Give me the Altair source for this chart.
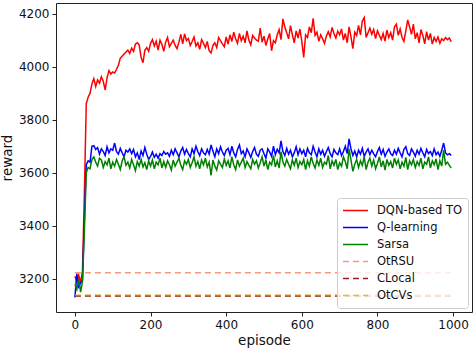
import altair as alt
import pandas as pd

# ---- data -------------------------------------------------------------
episodes = list(range(0, 1000, 5))

dqn = [
    3210, 3190, 3215, 3185, 3230, 3520, 3860, 3885, 3900, 3935,
    3955, 3925, 3950, 3938, 3962, 3945, 3912, 3958, 3985, 3972,
    3980, 3976, 3990, 4005, 4032, 4040, 4048, 4055, 4062, 4050,
    4070, 4058, 4085, 4090, 4082, 4035, 4015, 4062, 4072, 4058,
    4088, 4102, 4078, 4096, 4062, 4100, 4084, 4058, 4092, 4110,
    4075, 4088, 4100, 4080, 4068, 4092, 4122, 4086, 4124, 4098,
    4106, 4080, 4095, 4112, 4078, 4090, 4065, 4102, 4088, 4072,
    4095, 4060, 4052, 4080, 4090, 4072, 4110, 4098, 4086, 4075,
    4112, 4085, 4120, 4095, 4130, 4105, 4088, 4125, 4098, 4115,
    4090, 4135, 4100, 4082, 4118, 4108, 4100, 4096, 4145, 4092,
    4115, 4080, 4105, 4125, 4060, 4098, 4090, 4120, 4140, 4102,
    4180, 4150, 4128, 4105, 4155, 4120, 4090, 4135, 4108, 4142,
    4095, 4035, 4120, 4110, 4150, 4128, 4182, 4118, 4130, 4096,
    4120, 4105, 4088, 4116, 4132, 4112, 4148, 4125, 4108, 4134,
    4120, 4142, 4100, 4125, 4090, 4150, 4112, 4068, 4130, 4118,
    4156, 4120, 4172, 4185, 4110, 4128, 4145, 4122, 4140, 4106,
    4135, 4118, 4102, 4125, 4096, 4138, 4110, 4128, 4100, 4150,
    4160, 4118, 4142, 4110, 4095, 4135, 4176, 4150, 4122, 4160,
    4105, 4128, 4090, 4140, 4118, 4086, 4132, 4100, 4125, 4085,
    4110, 4095, 4112, 4088, 4105, 4098, 4110, 4102, 4108, 4094,
]

qlearning = [
    3130, 3220, 3170, 3185, 3195, 3420, 3630, 3645, 3640, 3700,
    3702, 3688, 3695, 3670, 3690, 3680, 3665, 3698, 3675, 3690,
    3685, 3712, 3680, 3670, 3692, 3675, 3660, 3685, 3678, 3690,
    3672, 3688, 3660, 3675, 3650, 3682, 3665, 3695, 3670, 3650,
    3662, 3678, 3658, 3670, 3655, 3672, 3665, 3680, 3670, 3675,
    3662, 3685, 3668, 3690, 3675, 3660, 3682, 3695, 3670, 3688,
    3672, 3660, 3690, 3672, 3700, 3680, 3665, 3690, 3675, 3668,
    3688, 3670, 3705, 3682, 3660, 3690, 3672, 3698, 3678, 3665,
    3685, 3692, 3668, 3700, 3675, 3660, 3688, 3705, 3672, 3682,
    3660, 3690, 3675, 3658, 3680, 3695, 3670, 3662, 3685, 3690,
    3672, 3655, 3690, 3678, 3662, 3700, 3668, 3688, 3675, 3720,
    3680, 3665, 3692, 3670, 3685, 3660, 3675, 3698, 3668, 3690,
    3672, 3685, 3660, 3692, 3675, 3668, 3700, 3678, 3660, 3690,
    3670, 3685, 3662, 3680, 3695, 3672, 3660, 3688, 3675, 3668,
    3690, 3665, 3680, 3700, 3672, 3728, 3690, 3665, 3682, 3660,
    3685, 3670, 3692, 3662, 3678, 3690, 3668, 3685, 3672, 3660,
    3680, 3695, 3670, 3688, 3662, 3678, 3690, 3672, 3665, 3685,
    3670, 3692, 3675, 3660, 3688, 3698, 3672, 3665, 3690, 3678,
    3662, 3685, 3670, 3692, 3675, 3660, 3688, 3672, 3680, 3665,
    3690, 3668, 3678, 3662, 3685, 3712, 3675, 3668, 3672, 3665,
]

sarsa = [
    3180, 3160, 3200, 3150, 3190, 3380, 3600, 3620, 3615, 3650,
    3660, 3640, 3625, 3655, 3648, 3620, 3642, 3630, 3655, 3615,
    3640, 3625, 3650, 3632, 3612, 3645, 3660, 3628, 3640, 3618,
    3650, 3630, 3608, 3642, 3625, 3650, 3622, 3638, 3612, 3645,
    3625, 3648, 3615, 3640, 3630, 3655, 3618, 3642, 3620, 3645,
    3630, 3610, 3648, 3625, 3640, 3655, 3628, 3612, 3645, 3632,
    3650, 3620, 3638, 3660, 3625, 3642, 3615, 3648, 3630, 3655,
    3622, 3640, 3590, 3648, 3625, 3610, 3645, 3632, 3620, 3652,
    3628, 3645, 3618, 3660, 3630, 3612, 3648, 3625, 3640, 3655,
    3620, 3642, 3628, 3615, 3650, 3632, 3645, 3618, 3638, 3660,
    3625, 3648, 3612, 3640, 3630, 3665, 3622, 3645, 3618, 3680,
    3640, 3625, 3650, 3632, 3615, 3648, 3628, 3655, 3620, 3642,
    3630, 3650, 3612, 3645, 3625, 3660, 3635, 3618, 3648, 3628,
    3655, 3620, 3640, 3632, 3665, 3615, 3645, 3628, 3650, 3612,
    3638, 3625, 3660, 3642, 3615, 3690, 3648, 3605, 3632, 3650,
    3620, 3645, 3628, 3660, 3612, 3640, 3655, 3625, 3648, 3615,
    3635, 3660, 3622, 3645, 3610, 3650, 3628, 3642, 3618, 3655,
    3632, 3648, 3615, 3640, 3625, 3658, 3612, 3645, 3630, 3650,
    3620, 3642, 3628, 3655, 3615, 3640, 3632, 3660, 3618, 3645,
    3630, 3652, 3612, 3645, 3625, 3685, 3632, 3640, 3628, 3618,
]

baseline_episodes = [0, 995]
otrsu = [3223, 3223]
clocal = [3135, 3135]
otcvs = [3140, 3140]

methods = ["DQN-based TO", "Q-learning", "Sarsa", "OtRSU", "CLocal", "OtCVs"]
colors = ["#ff0000", "#0000ff", "#008000", "#f59a80", "#9b1c1c", "#d2c43a"]
dashes = [[1, 0], [1, 0], [1, 0], [6, 4], [6, 4], [6, 4]]

x_ticks = [0, 200, 400, 600, 800, 1000]
y_ticks = [3200, 3400, 3600, 3800, 4000, 4200]

# ---- build ------------------------------------------------------------
series = [
    ("DQN-based TO", episodes, dqn, 1.0),
    ("Q-learning", episodes, qlearning, 1.0),
    ("Sarsa", episodes, sarsa, 1.0),
    ("OtRSU", baseline_episodes, otrsu, 1.0),
    ("CLocal", baseline_episodes, clocal, 1.0),
    ("OtCVs", baseline_episodes, otcvs, 0.65),
]

color_scale = alt.Scale(domain=methods, range=colors)
dash_scale = alt.Scale(domain=methods, range=dashes)

x_enc = alt.X(
    "episode:Q",
    scale=alt.Scale(domain=[-50, 1050], nice=False, zero=False),
    axis=alt.Axis(values=x_ticks, format="d", title="episode", grid=False, domain=False,
                  tickSize=4, labelPadding=3, titlePadding=3),
)
y_enc = alt.Y(
    "reward:Q",
    scale=alt.Scale(domain=[3075, 4240], nice=False, zero=False),
    axis=alt.Axis(values=y_ticks, format="d", title="reward", grid=False, domain=False,
                  tickSize=4, labelPadding=3, titlePadding=4),
)

legend = alt.Legend(orient="none", legendX=281, legendY=195)

layers = []
for name, xs, ys, op in series:
    df = pd.DataFrame({"episode": xs, "reward": ys, "method": [name] * len(xs)})
    layers.append(
        alt.Chart(df).mark_line(strokeWidth=1.5, opacity=op).encode(
            x=x_enc,
            y=y_enc,
            color=alt.Color("method:N", scale=color_scale, title=None, legend=legend),
            strokeDash=alt.StrokeDash("method:N", scale=dash_scale, title=None, legend=legend),
        )
    )

chart = alt.layer(*layers).properties(
    width=416,
    height=309,
    autosize=alt.AutoSizeParams(type="none"),
    padding={"left": 56, "top": 3, "right": 2, "bottom": 37},
).configure(
    font="DejaVu Sans",
).configure_view(
    stroke="#222222", strokeWidth=1,
).configure_axis(
    labelFontSize=12, titleFontSize=13.5, labelColor="#111111", titleColor="#111111",
    tickColor="#222222", titleFontWeight="normal",
).configure_legend(
    labelFontSize=11.5, labelColor="#111111", symbolType="stroke", symbolSize=625,
    symbolStrokeWidth=1.5, labelOffset=8, rowPadding=2, padding=5, clipHeight=15,
    fillColor="rgba(255,255,255,0.8)", strokeColor="#cccccc", cornerRadius=3,
    symbolOpacity=1,
)

chart.save("out.html", embed_options={"renderer": "svg", "actions": False})
